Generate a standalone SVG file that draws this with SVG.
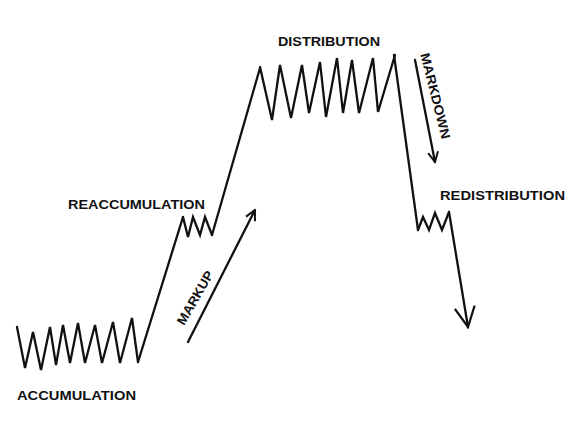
<svg xmlns="http://www.w3.org/2000/svg" width="582" height="423" viewBox="0 0 582 423">
<style>
.ln{fill:none;stroke:#111;stroke-width:2.3;stroke-linejoin:miter;stroke-linecap:round}
.lb{font-family:"Liberation Sans",Arial,sans-serif;font-weight:bold;font-size:13px;fill:#111}
</style>
<defs>
<marker id="ah" viewBox="0 0 12 12" refX="11" refY="6" markerWidth="12" markerHeight="12" markerUnits="userSpaceOnUse" orient="auto">
<path d="M1,1 L11,6 L1,11" fill="none" stroke="#111" stroke-width="2"/>
</marker>
<marker id="ahb" viewBox="0 0 24 24" refX="22" refY="12" markerWidth="24" markerHeight="24" markerUnits="userSpaceOnUse" orient="auto">
<path d="M2,2 L22,12 L2,22" fill="none" stroke="#111" stroke-width="2.2"/>
</marker>
</defs>
<rect width="582" height="423" fill="#fff"/>
<g id="connectors">
<polyline class="ln" points="138,362 183,217"/>
<polyline class="ln" points="212,235 260,68"/>
<polyline class="ln" points="394,55 418,230"/>
<polyline class="ln" points="449,212 468,327" marker-end="url(#ahb)"/>
<line class="ln" x1="188" y1="342" x2="255" y2="210" marker-end="url(#ah)"/>
<line class="ln" x1="415" y1="60" x2="435" y2="162" marker-end="url(#ah)"/>
</g>
<g id="accumulation">
<polyline class="ln" points="17,327 25,368 33,332 41,370 50,327 56,365 63,325 70,363 78,323 85,363 95,325 102,363 113,322 120,363 132,318 138,362"/>
<text class="lb" x="17" y="400" textLength="119" lengthAdjust="spacingAndGlyphs">ACCUMULATION</text>
</g>
<g id="reaccumulation">
<polyline class="ln" points="183,217 188,237 193,217 200,235 205,217 212,235"/>
<text class="lb" x="68" y="209" textLength="137" lengthAdjust="spacingAndGlyphs">REACCUMULATION</text>
</g>
<g id="distribution">
<polyline class="ln" points="260,67 272,120 280,65 291,118 302,65 309,113 320,62 326,117 337,58 343,113 352,60 359,113 373,58 378,112 395,55"/>
<text class="lb" x="278" y="46" textLength="102" lengthAdjust="spacingAndGlyphs">DISTRIBUTION</text>
</g>
<g id="redistribution">
<polyline class="ln" points="418,230 423,217 429,230 435,213 442,230 449,212"/>
<text class="lb" x="440" y="200" textLength="125" lengthAdjust="spacingAndGlyphs">REDISTRIBUTION</text>
</g>
<g id="markup">
<text class="lb" transform="translate(199,300) rotate(-60)" text-anchor="middle" textLength="60" lengthAdjust="spacingAndGlyphs">MARKUP</text>
</g>
<g id="markdown">
<text class="lb" transform="translate(431,97) rotate(76)" text-anchor="middle" textLength="88" lengthAdjust="spacingAndGlyphs">MARKDOWN</text>
</g>
</svg>
